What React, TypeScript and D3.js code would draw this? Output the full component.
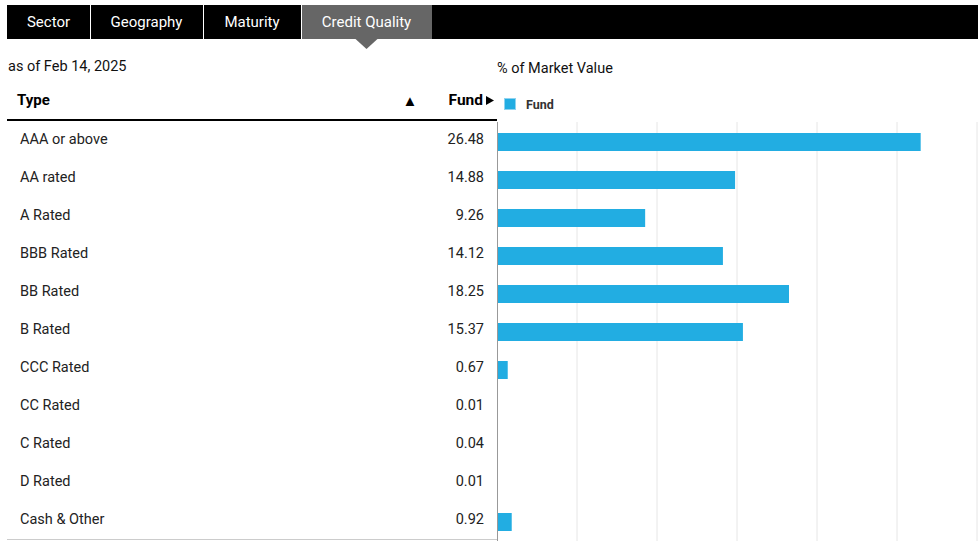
import * as d3 from "d3";
import React from "react";

const TABS = ["Sector", "Geography", "Maturity", "Credit Quality"];
const TAB_EDGES = [7, 90, 203, 301, 432];
const ACTIVE_TAB = 3;

const TYPES = [
  "AAA or above",
  "AA rated",
  "A Rated",
  "BBB Rated",
  "BB Rated",
  "B Rated",
  "CCC Rated",
  "CC Rated",
  "C Rated",
  "D Rated",
  "Cash & Other",
];
const FUND = [26.48, 14.88, 9.26, 14.12, 18.25, 15.37, 0.67, 0.01, 0.04, 0.01, 0.92];
const X_TICKS = [0, 5, 10, 15, 20, 25, 30];

const W = 978;
const H = 541;
const FONT = "Roboto, 'Liberation Sans', sans-serif";
const BLUE = "#22ade2";

export default function App() {
  const x = d3.scaleLinear().domain([0, 30]).range([497, 977]);
  const y = d3
    .scaleBand<string>()
    .domain(TYPES)
    .range([123, 541])
    .paddingInner(20 / 38)
    .paddingOuter(10 / 38);

  const a = TAB_EDGES[ACTIVE_TAB];
  const b = TAB_EDGES[ACTIVE_TAB + 1];
  const mid = (a + b) / 2;

  return (
    <svg
      width={W}
      height={H}
      style={{ position: "absolute", left: 0, top: 0, fontFamily: FONT }}
    >
      {/* tab strip */}
      <rect x={7} y={5} width={W - 7} height={34} fill="#000" />
      {TABS.map((t, i) => {
        const x0 = TAB_EDGES[i];
        const x1 = TAB_EDGES[i + 1];
        const active = i === ACTIVE_TAB;
        return (
          <g key={t}>
            {active && <rect x={x0 + 1} y={5} width={x1 - x0 - 1} height={34} fill="#666" />}
            {i > 0 && <line x1={x0 + 0.5} x2={x0 + 0.5} y1={5} y2={39} stroke="#fff" strokeWidth={1} />}
            <text
              x={(x0 + x1) / 2}
              y={21.5}
              dominantBaseline="central"
              textAnchor="middle"
              fill="#fff"
              fontSize={15}
            >
              {t}
            </text>
          </g>
        );
      })}
      <path d={`M${mid - 11},39 L${mid + 11},39 L${mid},49 Z`} fill="#666" />

      <text x={8} y={71} fontSize={14.5} fill="#111">as of Feb 14, 2025</text>
      <text x={497} y={73} fontSize={14.5} fill="#111">% of Market Value</text>

      {/* table header */}
      <text x={17} y={105} fontSize={15} fontWeight={700} fill="#000">Type</text>
      <text x={410} y={106} fontSize={15} textAnchor="middle" fill="#000">▲</text>
      <text x={483} y={105} fontSize={15.5} fontWeight={700} textAnchor="end" fill="#000">Fund</text>
      <path d="M486,96 L494,100.5 L486,105 Z" fill="#000" />
      <rect x={7} y={119} width={490} height={2} fill="#000" />

      {/* legend */}
      <rect x={504.5} y={98.5} width={11} height={11} fill={BLUE} stroke="#8fd3f0" strokeWidth={1} />
      <text x={526} y={109} fontSize={12.5} fontWeight={700} fill="#333">Fund</text>

      {/* gridlines */}
      {X_TICKS.slice(1).map((t) => (
        <line key={t} x1={x(t)} x2={x(t)} y1={122} y2={H} stroke="#e6e6e6" strokeWidth={1} />
      ))}

      {/* rows */}
      {TYPES.map((t, i) => {
        const cy = (y(t) ?? 0) + y.bandwidth() / 2 - 3;
        return (
          <g key={t}>
            <text x={20} y={cy} dominantBaseline="central" fontSize={14.5} fill="#222">{t}</text>
            <text x={484} y={cy} dominantBaseline="central" textAnchor="end" fontSize={14.5} fill="#222">
              {FUND[i].toFixed(2)}
            </text>
            <rect
              x={x(0)}
              y={y(t)}
              width={Math.max(0, x(FUND[i]) - x(0))}
              height={y.bandwidth()}
              fill={BLUE}
            />
          </g>
        );
      })}

      <line x1={7} x2={497} y1={539.5} y2={539.5} stroke="#ccc" strokeWidth={1} />
      <line x1={497.5} x2={497.5} y1={122} y2={H} stroke="#999" strokeWidth={1} />
    </svg>
  );
}
